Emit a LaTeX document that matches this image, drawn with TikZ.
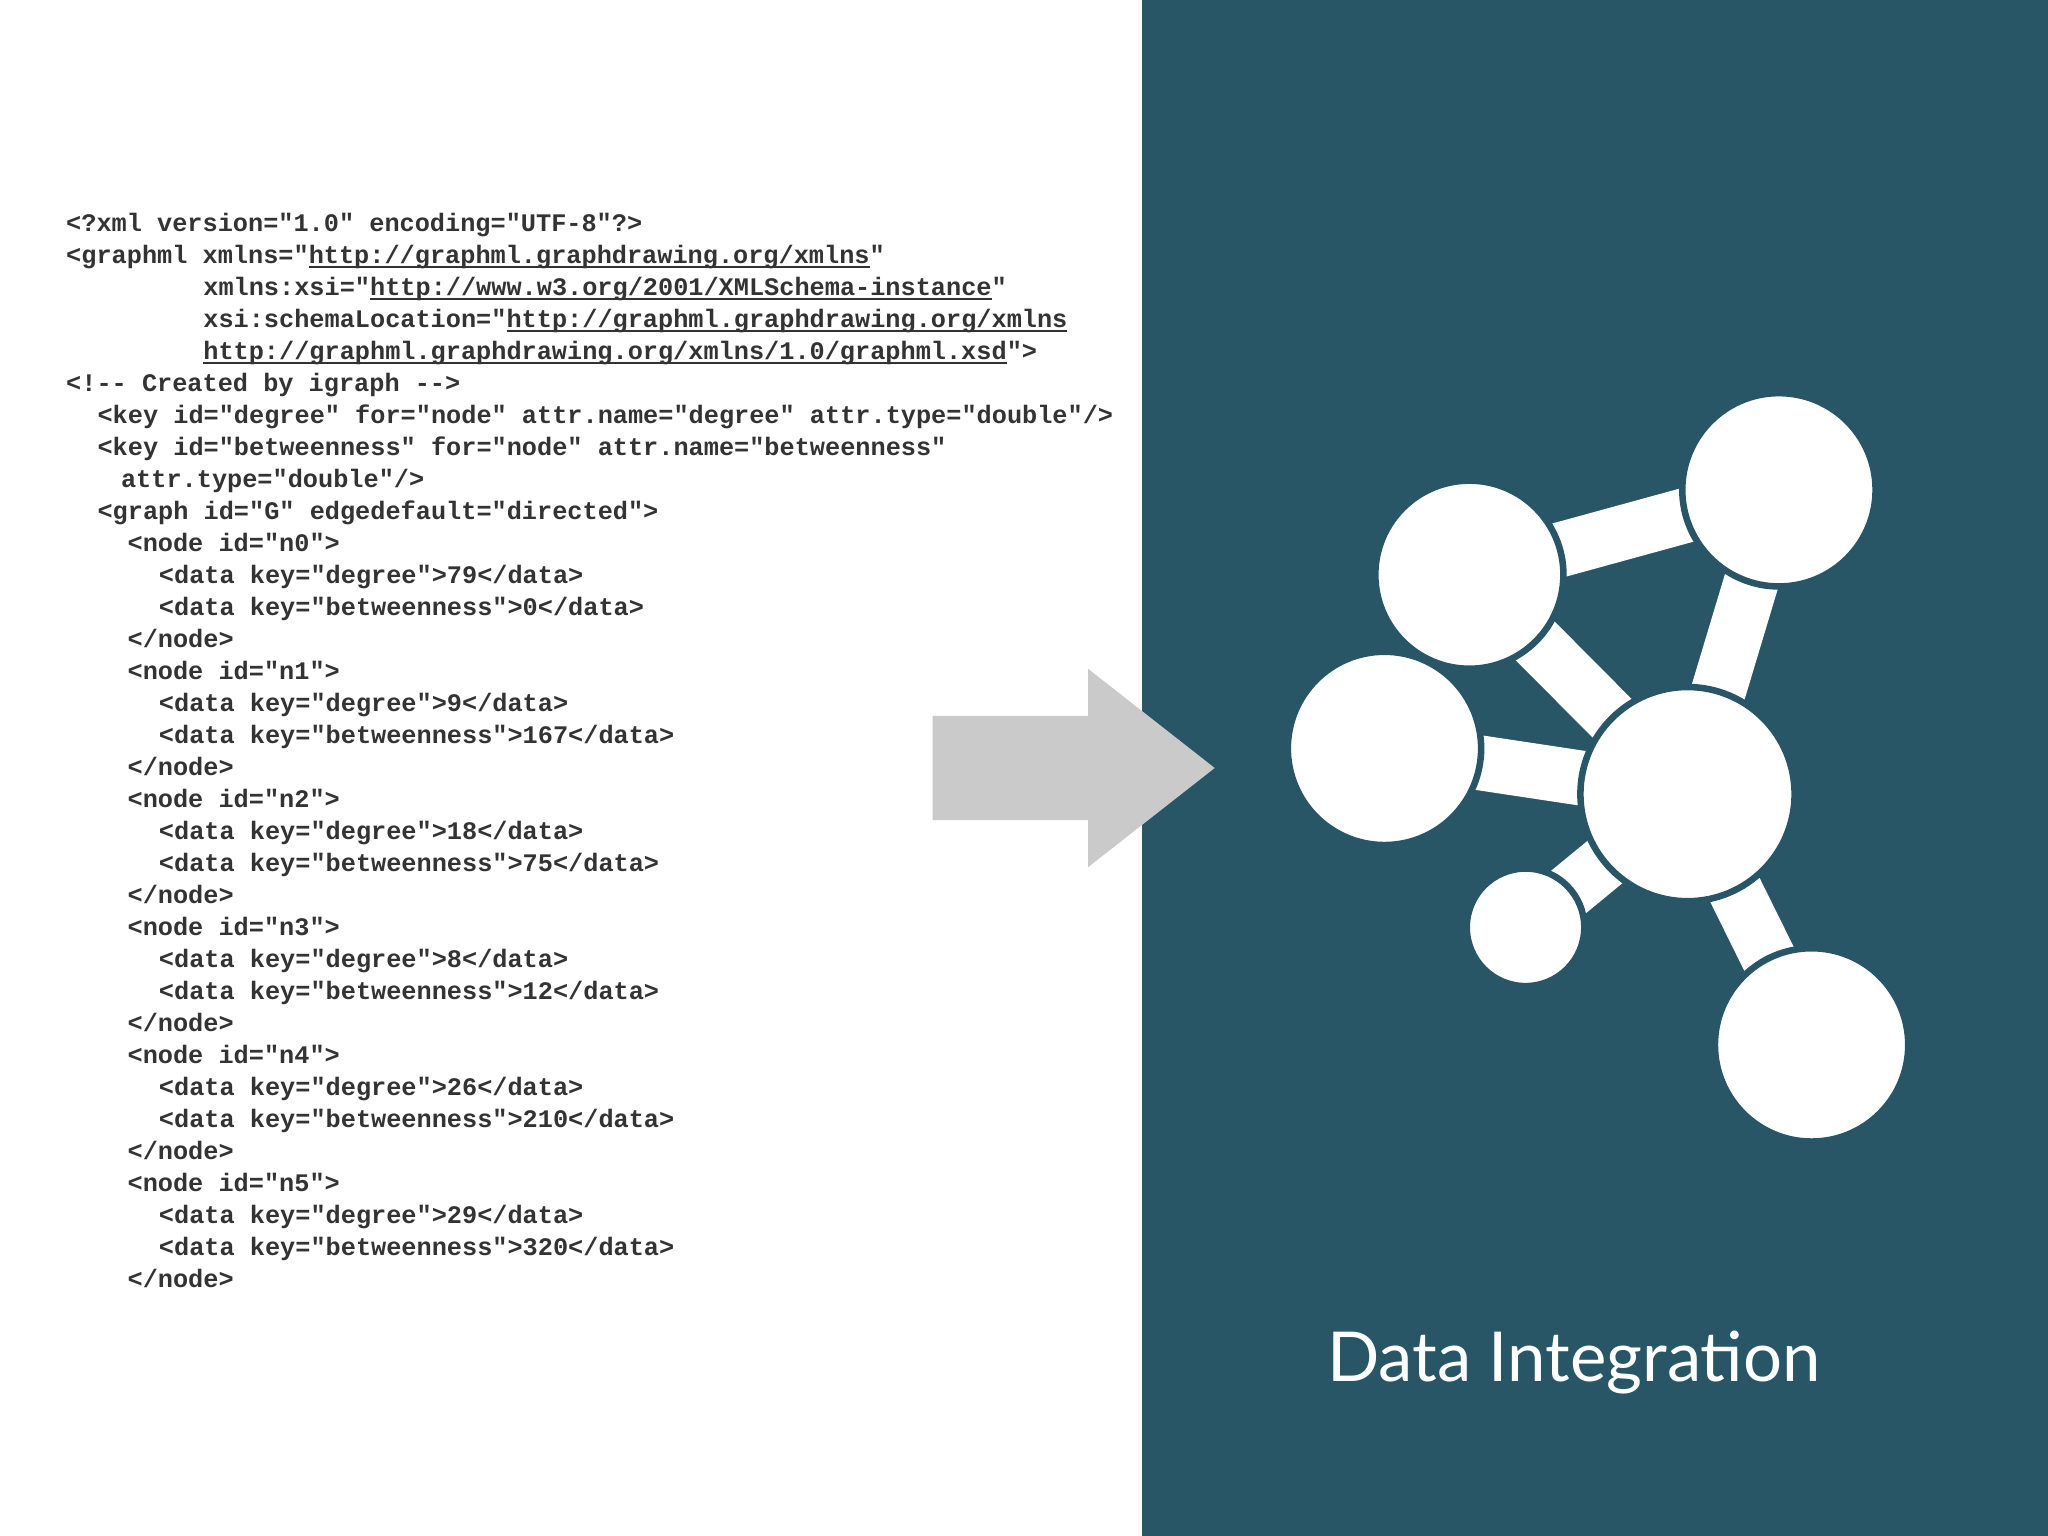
\documentclass[tikz,border=0pt]{standalone}
\usepackage{fontspec}
\setmonofont{Liberation Mono}
\newfontfamily\titlefont{Lato}
\definecolor{panel}{HTML}{285666}
\definecolor{codec}{HTML}{333333}
\definecolor{arrowc}{HTML}{CACACA}
\tikzset{code/.style={anchor=base west,inner sep=0pt,font=\ttfamily\bfseries\fontsize{5.5pt}{7pt}\selectfont,text=codec},
 link/.style={white,line width=0.42cm},
 ball/.style={fill=white,draw=panel,line width=0.05cm}}
\newsavebox\ubox
\newcommand\U[1]{\sbox\ubox{#1}\rlap{\rule[-1.1pt]{\wd\ubox}{0.45pt}}\usebox\ubox}
\begin{document}
\begin{tikzpicture}[x=0.01cm,y=-0.01cm]
\useasboundingbox (0,0) rectangle (1568,1176);
\fill[panel] (874,0) rectangle (1568,1176);
\fill[arrowc] (714,548) -- (833,548) -- (833,512) -- (930,588) -- (833,664) -- (833,628) -- (714,628) -- cycle;
% network
\coordinate (a) at (1125,440); \coordinate (b) at (1362,375); \coordinate (c) at (1060,573);
\coordinate (m) at (1292,608); \coordinate (d) at (1168,710); \coordinate (e) at (1387,800);
\draw[link] (a) -- (b); \draw[link] (b) -- (m); \draw[link] (a) -- (m);
\draw[link] (c) -- (m); \draw[link] (d) -- (m); \draw[link] (m) -- (e);
\path[ball] (m) circle (82); \path[ball] (a) circle (72); \path[ball] (b) circle (74);
\path[ball] (c) circle (74); \path[ball] (d) circle (45); \path[ball] (e) circle (74);
\node[anchor=base,text=white,font=\titlefont\fontsize{15pt}{18pt}\selectfont] (title) at (1205,1058) {Data Integration};
% code
\node[code] (l0) at (50,177) {<?xml version="1.0" encoding="UTF-8"?>};
\node[code] (l1) at (50,201.5) {<graphml xmlns="\U{http://graphml.graphdrawing.org/xmlns}"};
\node[code] (l2) at (155,226) {xmlns:xsi="\U{http://www.w3.org/2001/XMLSchema-instance}"};
\node[code] (l3) at (155,250.5) {xsi:schemaLocation="\U{http://graphml.graphdrawing.org/xmlns}};
\node[code] (l4) at (155,275) {\U{http://graphml.graphdrawing.org/xmlns/1.0/graphml.xsd}">};
\node[code] (l5) at (50,299.5) {<!-- Created by igraph -->};
\node[code] (l6) at (74,324) {<key id="degree" for="node" attr.name="degree" attr.type="double"/>};
\node[code] (l7) at (74,348.5) {<key id="betweenness" for="node" attr.name="betweenness"};
\node[code] (l8) at (92,373) {attr.type="double"/>};
\node[code] (l9) at (74,397.5) {<graph id="G" edgedefault="directed">};
\foreach \n/\deg/\bet [count=\k from 0] in {n0/79/0,n1/9/167,n2/18/75,n3/8/12,n4/26/210,n5/29/320}{
  \pgfmathsetmacro\yy{422+\k*98}
  \node[code] (o\k) at (97,\yy) {<node id="\n">};
  \node[code] (d\k) at (121,\yy+24.5) {<data key="degree">\deg</data>};
  \node[code] (b\k) at (121,\yy+49) {<data key="betweenness">\bet</data>};
  \node[code] (c\k) at (97,\yy+73.5) {</node>};
}
\end{tikzpicture}
\end{document}
